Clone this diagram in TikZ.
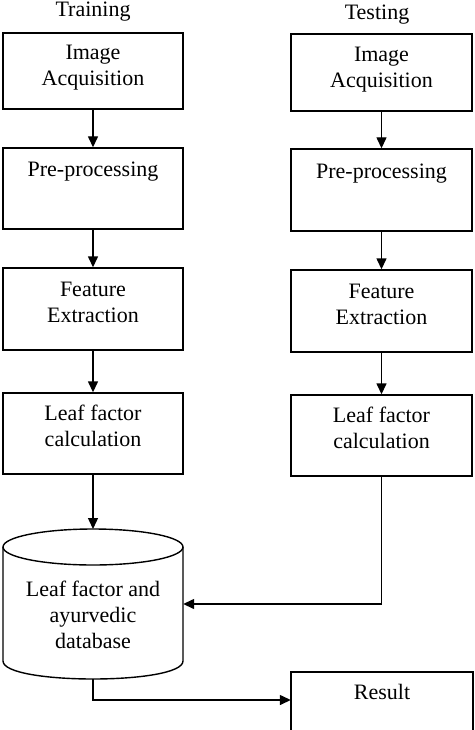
\documentclass[tikz,border=0pt]{standalone}
\usepackage{fontspec}
\setmainfont{Liberation Serif}
\usetikzlibrary{arrows.meta}
\begin{document}
\begin{tikzpicture}[x=1pt,y=-1pt,
  box/.style={draw, line width=1.4pt, inner sep=0pt},
  txt/.style={align=center, inner sep=0pt, anchor=north, font=\fontsize{22}{26}\selectfont},
  conn/.style={line width=1.4pt, -{Triangle[length=11pt,width=10pt]}},
  plain/.style={line width=1.4pt}]
\useasboundingbox (0,0) rectangle (474,730);
% titles
\node[txt, anchor=center] (t1) at (93,12) {Training};
\node[txt, anchor=center] (t2) at (377,15) {Testing};
% left column
\node[box, minimum width=180pt, minimum height=76pt] (l1) at (93,71) {};
\node[box, minimum width=180pt, minimum height=81pt] (l2) at (93,188.5) {};
\node[box, minimum width=180pt, minimum height=82pt] (l3) at (93,309) {};
\node[box, minimum width=180pt, minimum height=81pt] (l4) at (93,433.5) {};
\node[txt] (l1t) at (93,45) {Image\\Acquisition};
\node[txt] (l2t) at (93,162) {Pre-processing};
\node[txt] (l3t) at (93,282) {Feature\\Extraction};
\node[txt] (l4t) at (93,405) {Leaf factor\\calculation};
% right column
\node[box, minimum width=181pt, minimum height=77pt] (r1) at (381.5,72.5) {};
\node[box, minimum width=181pt, minimum height=82pt] (r2) at (381.5,190) {};
\node[box, minimum width=181pt, minimum height=82pt] (r3) at (381.5,311) {};
\node[box, minimum width=181pt, minimum height=81pt] (r4) at (381.5,435.5) {};
\node[txt] (r1t) at (381.5,47) {Image\\Acquisition};
\node[txt] (r2t) at (381.5,164) {Pre-processing};
\node[txt] (r3t) at (381.5,284) {Feature\\Extraction};
\node[txt] (r4t) at (381.5,407) {Leaf factor\\calculation};
% database cylinder
\draw[line width=1.4pt] (93,547) ellipse [x radius=90, y radius=18];
\draw[line width=1.4pt] (3,547) -- (3,661) .. controls (3,685) and (183,685) .. (183,661) -- (183,547);
\node[inner sep=0pt, minimum width=180pt, minimum height=150pt] (db) at (93,604) {};
\node[txt] (dbt) at (93,581) {Leaf factor and\\ayurvedic\\database};
\coordinate (dbtop) at (93,529);
\coordinate (dbbot) at (93,679);
% result
\draw[line width=1.4pt] (291,735) -- (291,672) -- (473,672) -- (473,735);
\node[inner sep=0pt, minimum width=182pt, minimum height=56pt] (res) at (382,700) {};
\node[txt] (rest) at (382,684) {Result};
% connectors
\draw[conn] (l1) -- (l2);
\draw[conn] (l2) -- (l3);
\draw[conn] (l3) -- (l4);
\draw[conn] (l4) -- (dbtop);
\draw[conn] (r1) -- (r2);
\draw[conn] (r2) -- (r3);
\draw[conn] (r3) -- (r4);
\draw[conn] (r4.south) |- (db.east);
\draw[conn] (dbbot) |- (res.west);
\end{tikzpicture}
\end{document}
